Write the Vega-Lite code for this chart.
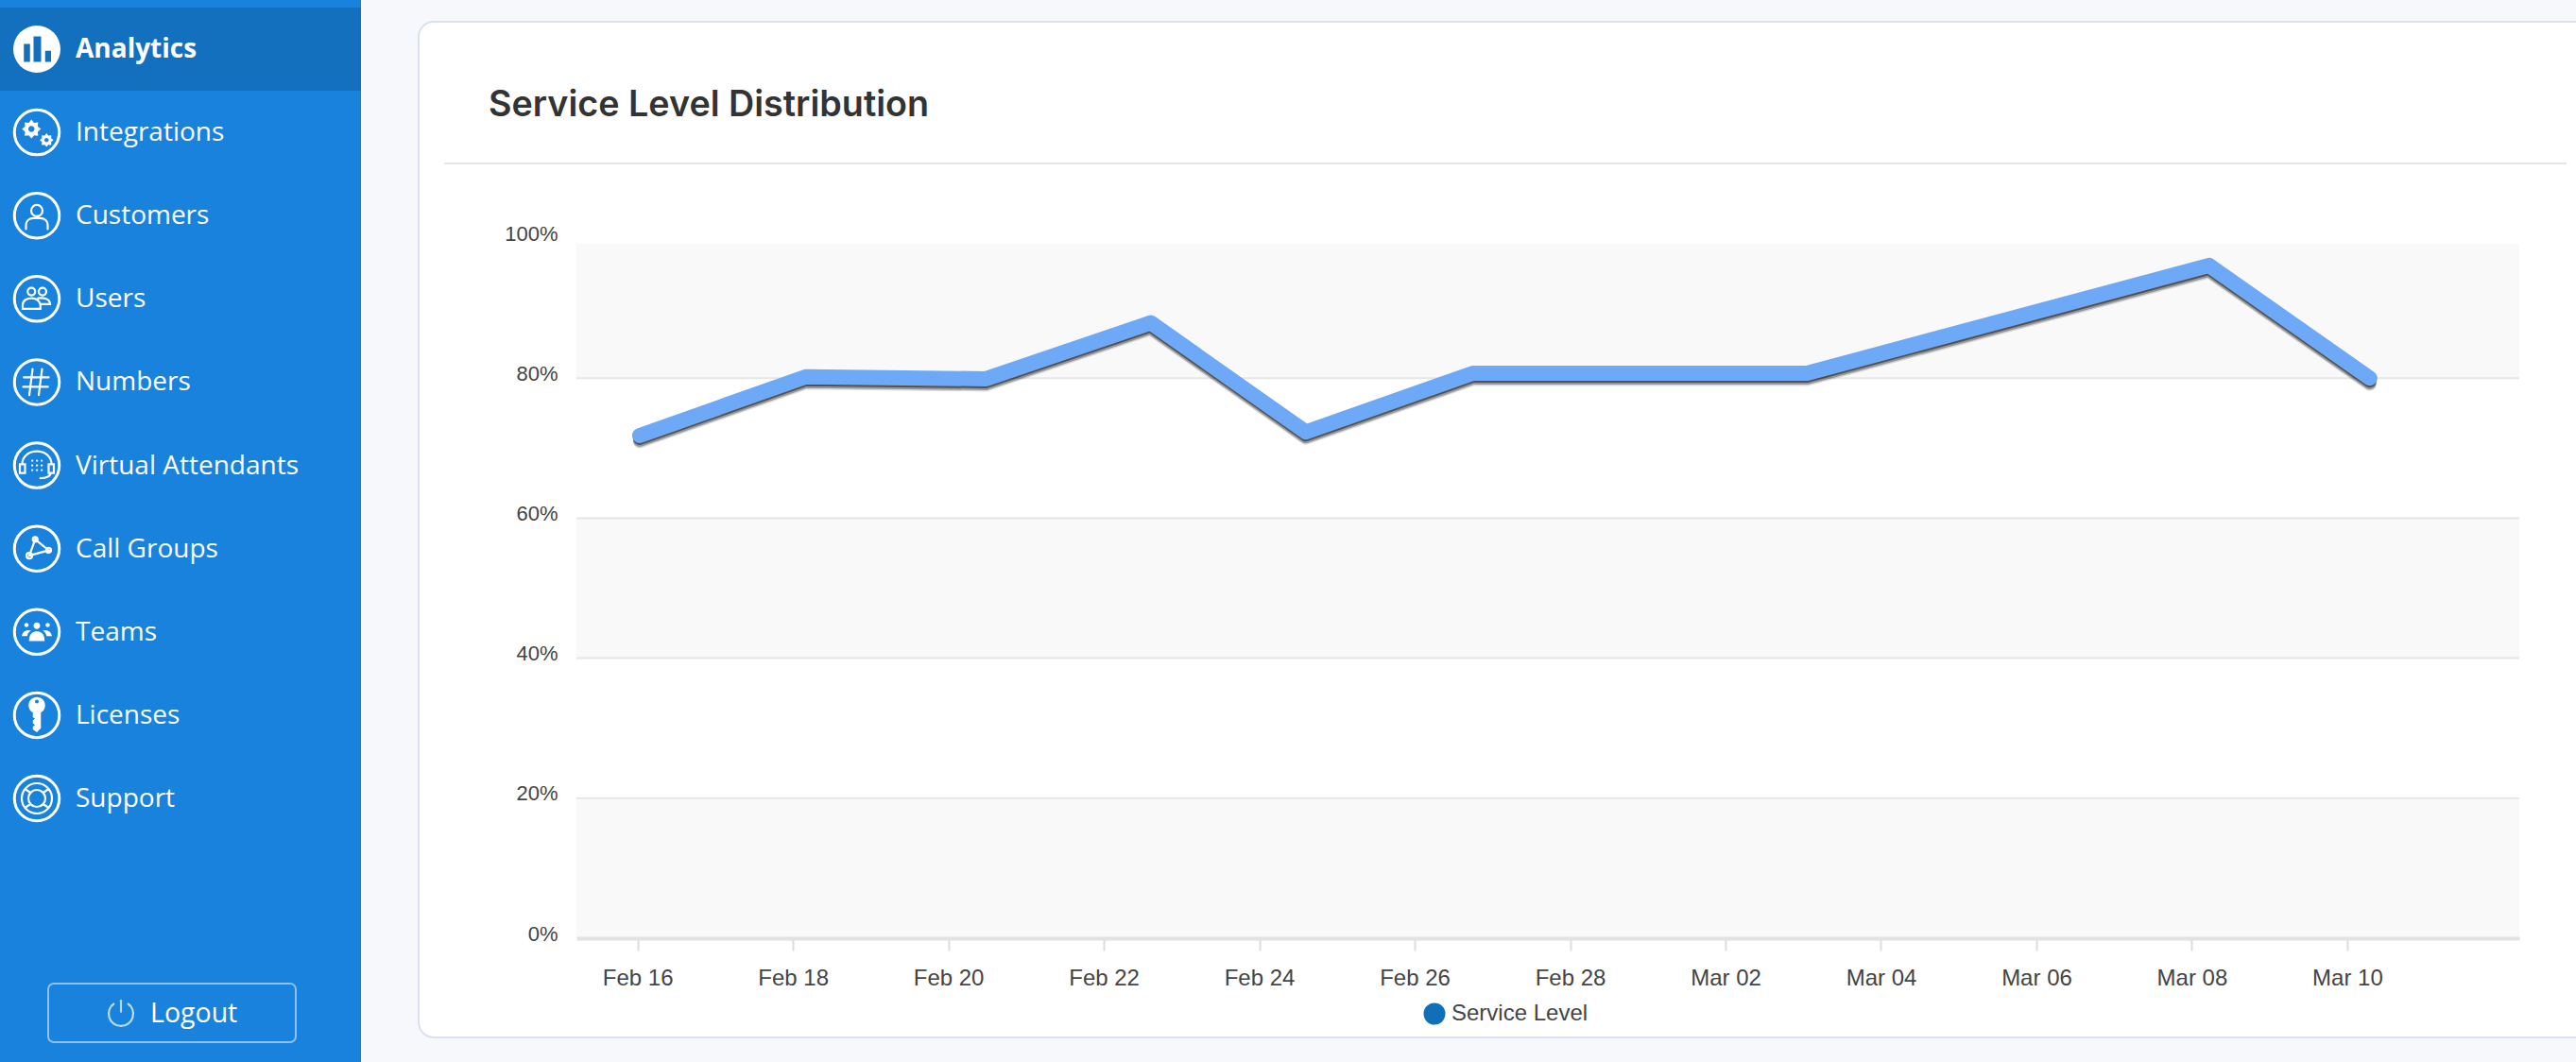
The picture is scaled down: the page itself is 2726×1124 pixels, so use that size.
{
  "$schema": "https://vega.github.io/schema/vega-lite/v6.json",
  "width": 2056,
  "height": 741,
  "autosize": {"type": "none"},
  "padding": {"left": 610, "top": 252, "right": 60, "bottom": 131},
  "background": "#f7f8fb",
  "title": {
    "text": "Service Level Distribution",
    "anchor": "start",
    "frame": "group",
    "dx": -93,
    "offset": -161,
    "baseline": "alphabetic",
    "font": "Inter",
    "fontSize": 37.7,
    "fontWeight": 600,
    "color": "#333333"
  },
  "config": {"view": {"stroke": null}},
  "resolve": {"scale": {"x": "independent", "y": "independent", "stroke": "independent", "shape": "independent"}},
  "layer": [
    {
      "data": {"values": [{"part": "sidebar"}]},
      "mark": {"type": "rect", "fill": "#1882dd"},
      "encoding": {"x": {"value": -610}, "x2": {"value": -228}, "y": {"value": -252}, "y2": {"value": 872}}
    },
    {
      "data": {"values": [{"part": "active row"}]},
      "mark": {"type": "rect", "fill": "#1270bf"},
      "encoding": {"x": {"value": -610}, "x2": {"value": -228}, "y": {"value": -244}, "y2": {"value": -156}}
    },
    {
      "data": {"values": [{"part": "card"}]},
      "mark": {"type": "rect", "fill": "#ffffff", "stroke": "#d9e1f0", "strokeWidth": 2, "cornerRadius": 16},
      "encoding": {"x": {"value": -167}, "x2": {"value": 2200}, "y": {"value": -229}, "y2": {"value": 846}}
    },
    {
      "data": {"values": [{"part": "divider"}]},
      "mark": {"type": "rule", "stroke": "#e6e6e6", "strokeWidth": 2},
      "encoding": {"x": {"value": -140}, "x2": {"value": 2106}, "y": {"value": -79}}
    },
    {
      "data": {"values": [{"part": "logout"}]},
      "mark": {"type": "rect", "fill": "#1882dd", "stroke": "#8cc0ee", "strokeWidth": 2, "cornerRadius": 6},
      "encoding": {"x": {"value": -559}, "x2": {"value": -297}, "y": {"value": 789}, "y2": {"value": 851}}
    },
    {
      "data": {"values": [{"label": "Logout"}]},
      "mark": {"type": "text", "align": "left", "baseline": "middle", "font": "Open Sans", "fontSize": 28.5, "fill": "#ffffff"},
      "encoding": {"x": {"value": -451}, "y": {"value": 821}, "text": {"field": "label"}}
    },
    {
      "data": {"values": [{"label": "power"}]},
      "mark": {"type": "point", "filled": false, "stroke": "#ffffff", "strokeWidth": 2.2, "size": 2500, "shape": "M-.28 -.4 A.52 .52 0 1 0 .28 -.4 M0 -.56 V-.02"},
      "encoding": {"x": {"value": -482}, "y": {"value": 820}}
    },
    {
      "data": {
        "values": [
          {"item": "Analytics"},
          {"item": "Integrations"},
          {"item": "Customers"},
          {"item": "Users"},
          {"item": "Numbers"},
          {"item": "Virtual Attendants"},
          {"item": "Call Groups"},
          {"item": "Teams"},
          {"item": "Licenses"},
          {"item": "Support"}
        ]
      },
      "resolve": {"scale": {"shape": "independent"}},
      "encoding": {
        "x": {"value": -571},
        "y": {
          "field": "item",
          "type": "nominal",
          "axis": null,
          "scale": {
            "type": "point",
            "padding": 0,
            "domain": ["Analytics", "Integrations", "Customers", "Users", "Numbers", "Virtual Attendants", "Call Groups", "Teams", "Licenses", "Support"],
            "range": [-200, 593]
          }
        }
      },
      "layer": [
        {
          "transform": [{"filter": "datum.item !== 'Analytics'"}],
          "mark": {"type": "point", "shape": "circle", "filled": false, "stroke": "#ffffff", "strokeWidth": 3, "size": 2256, "opacity": 1}
        },
        {
          "transform": [{"filter": "datum.item === 'Analytics'"}],
          "mark": {"type": "point", "shape": "circle", "filled": true, "fill": "#ffffff", "size": 2500, "opacity": 1}
        },
        {
          "transform": [{"filter": "datum.item === 'Analytics'"}],
          "mark": {"type": "point", "filled": true, "fill": "#1270bf", "size": 2500, "opacity": 1, "shape": "M-.55 -.22 H-.29 V.54 H-.55 Z M-.14 -.54 H.18 V.54 H-.14 Z M.35 .07 H.6 V.54 H.35 Z"}
        },
        {
          "transform": [{"filter": "indexof(['Customers','Users','Numbers','Virtual Attendants','Call Groups','Support'], datum.item) >= 0"}],
          "mark": {"type": "point", "filled": false, "stroke": "#ffffff", "strokeWidth": 2.2, "strokeCap": "round", "size": 2500, "opacity": 1},
          "encoding": {
            "shape": {
              "field": "item",
              "type": "nominal",
              "legend": null,
              "scale": {
                "domain": ["Customers", "Users", "Numbers", "Virtual Attendants", "Call Groups", "Support"],
                "range": [
                  "M.24 -.21 A.24 .24 0 1 1 -.24 -.21 A.24 .24 0 1 1 .24 -.21 Z M-.46 .57 V.42 C-.46 .2 -.3 .11 -.14 .11 H.14 C.3 .11 .46 .2 .46 .42 V.57",
                  "M-.07 -.31 A.16 .16 0 1 1 -.39 -.31 A.16 .16 0 1 1 -.07 -.31 Z M.4 -.31 A.16 .16 0 1 1 .08 -.31 A.16 .16 0 1 1 .4 -.31 Z M-.6 .42 V.25 C-.6 .05 -.4 -.03 -.22 -.03 C-.05 -.03 .1 .05 .15 .25 V.42 Z M.05 -.03 C.3 -.07 .55 0 .56 .22 H.17",
                  "M-.18 -.55 L-.32 .55 M.22 -.55 L.08 .55 M-.55 -.2 H.5 M-.58 .2 H.47",
                  "M-.62 -.05 C-.62 -.78 .62 -.78 .62 -.05 M-.72 -.05 H-.5 V.32 H-.72 Z M.5 -.05 H.72 V.32 H.5 Z M.6 .32 C.55 .52 .35 .54 .15 .54 M-.2 -.2 h.01 M0 -.2 h.01 M.2 -.2 h.01 M-.2 0 h.01 M0 0 h.01 M.2 0 h.01 M-.2 .2 h.01 M0 .2 h.01 M.2 .2 h.01",
                  "M-.07 -.39 L-.32 .3 L.5 .07 Z M.03 -.39 A.1 .1 0 1 1 -.17 -.39 A.1 .1 0 1 1 .03 -.39 Z M-.2 .3 A.12 .12 0 1 1 -.44 .3 A.12 .12 0 1 1 -.2 .3 Z M.6 .07 A.1 .1 0 1 1 .4 .07 A.1 .1 0 1 1 .6 .07 Z",
                  "M.64 0 A.64 .64 0 1 1 -.64 0 A.64 .64 0 1 1 .64 0 Z M.36 0 A.36 .36 0 1 1 -.36 0 A.36 .36 0 1 1 .36 0 Z M-.27 -.24 L-.5 -.4 M.27 -.24 L.5 -.4 M-.27 .24 L-.5 .4 M.27 .24 L.5 .4"
                ]
              }
            }
          }
        },
        {
          "transform": [{"filter": "indexof(['Integrations','Teams','Licenses'], datum.item) >= 0"}],
          "mark": {"type": "point", "filled": true, "fill": "#ffffff", "size": 2500, "opacity": 1},
          "encoding": {
            "shape": {
              "field": "item",
              "type": "nominal",
              "legend": null,
              "scale": {
                "domain": ["Integrations", "Teams", "Licenses"],
                "range": [
                  "M.17 -.14 L.038 -.029 L.053 .143 L-.119 .128 L-.23 .26 L-.341 .128 L-.513 .143 L-.498 -.029 L-.63 -.14 L-.498 -.251 L-.513 -.423 L-.341 -.408 L-.23 -.54 L-.119 -.408 L.053 -.423 L.038 -.251 Z M-.1 -.14 A.13 .13 0 1 0 -.36 -.14 A.13 .13 0 1 0 -.1 -.14 Z M.7 .33 L.604 .41 L.615 .535 L.49 .524 L.41 .62 L.33 .524 L.205 .535 L.216 .41 L.12 .33 L.216 .25 L.205 .125 L.33 .136 L.41 .04 L.49 .136 L.615 .125 L.604 .25 Z M.5 .33 A.09 .09 0 1 0 .32 .33 A.09 .09 0 1 0 .5 .33 Z",
                  "M-.14 -.26 A.14 .14 0 1 0 .14 -.26 A.14 .14 0 1 0 -.14 -.26 Z M-.33 .39 C-.33 .05 -.15 -.02 0 -.02 C.15 -.02 .33 .05 .33 .39 Z M-.53 -.29 A.09 .09 0 1 0 -.35 -.29 A.09 .09 0 1 0 -.53 -.29 Z M.37 -.29 A.09 .09 0 1 0 .55 -.29 A.09 .09 0 1 0 .37 -.29 Z M-.64 .18 C-.6 -.05 -.4 -.12 -.25 -.05 C-.35 0 -.4 .1 -.41 .18 Z M.64 .18 C.6 -.05 .4 -.12 .25 -.05 C.35 0 .4 .1 .41 .18 Z",
                  "M-.35 -.42 A.35 .35 0 1 1 .35 -.42 A.35 .35 0 1 1 -.35 -.42 Z M.08 -.58 A.08 .08 0 1 0 -.08 -.58 A.08 .08 0 1 0 .08 -.58 Z M-.17 -.2 H.17 V.55 L0 .72 L-.17 .6 V.48 L-.08 .42 L-.17 .33 V.22 L-.08 .15 L-.17 .08 Z"
                ]
              }
            }
          }
        },
        {
          "transform": [{"filter": "datum.item !== 'Analytics'"}],
          "mark": {"type": "text", "align": "left", "baseline": "middle", "font": "Open Sans", "fontSize": 28, "dy": 1, "fill": "#ffffff"},
          "encoding": {"x": {"value": -530}, "text": {"field": "item"}}
        },
        {
          "transform": [{"filter": "datum.item === 'Analytics'"}],
          "mark": {"type": "text", "align": "left", "baseline": "middle", "font": "Open Sans", "fontSize": 28, "dy": 1, "fontWeight": 700, "fill": "#ffffff"},
          "encoding": {"x": {"value": -530}, "text": {"field": "item"}}
        }
      ]
    },
    {
      "layer": [
        {
          "data": {"values": [{"low": 0, "high": 0.2}, {"low": 0.4, "high": 0.6}, {"low": 0.8, "high": 0.992}]},
          "mark": {"type": "rect", "fill": "#f9f9f9"},
          "encoding": {
            "y": {"field": "low", "type": "quantitative", "scale": {"domain": [0, 1]}, "title": null},
            "y2": {"field": "high"}
          }
        },
        {
          "data": {"values": [{"level": 0.2}, {"level": 0.4}, {"level": 0.6}, {"level": 0.8}]},
          "mark": {"type": "rule", "stroke": "#e6e6e6", "strokeWidth": 2},
          "encoding": {"y": {"field": "level", "type": "quantitative", "title": null}}
        },
        {
          "data": {
            "name": "service",
            "values": [
              {"date": "2023-02-16T00:40:00Z", "level": 0.718, "series": "Service Level"},
              {"date": "2023-02-18T04:00:00Z", "level": 0.802, "series": "Service Level"},
              {"date": "2023-02-20T11:39:00Z", "level": 0.799, "series": "Service Level"},
              {"date": "2023-02-22T14:31:00Z", "level": 0.879, "series": "Service Level"},
              {"date": "2023-02-24T14:24:00Z", "level": 0.723, "series": "Service Level"},
              {"date": "2023-02-26T18:00:00Z", "level": 0.807, "series": "Service Level"},
              {"date": "2023-03-03T01:12:00Z", "level": 0.807, "series": "Service Level"},
              {"date": "2023-03-08T05:17:00Z", "level": 0.961, "series": "Service Level"},
              {"date": "2023-03-10T06:58:00Z", "level": 0.8, "series": "Service Level"}
            ]
          },
          "encoding": {
            "x": {
              "field": "date",
              "type": "temporal",
              "title": null,
              "scale": {"type": "utc", "domain": ["2023-02-15T05:08:00Z", "2023-03-12T05:08:00Z"]},
              "axis": {
                "values": [
                  {"year": 2023, "month": "feb", "date": 16, "utc": true},
                  {"year": 2023, "month": "feb", "date": 18, "utc": true},
                  {"year": 2023, "month": "feb", "date": 20, "utc": true},
                  {"year": 2023, "month": "feb", "date": 22, "utc": true},
                  {"year": 2023, "month": "feb", "date": 24, "utc": true},
                  {"year": 2023, "month": "feb", "date": 26, "utc": true},
                  {"year": 2023, "month": "feb", "date": 28, "utc": true},
                  {"year": 2023, "month": "mar", "date": 2, "utc": true},
                  {"year": 2023, "month": "mar", "date": 4, "utc": true},
                  {"year": 2023, "month": "mar", "date": 6, "utc": true},
                  {"year": 2023, "month": "mar", "date": 8, "utc": true},
                  {"year": 2023, "month": "mar", "date": 10, "utc": true}
                ],
                "format": "%b %d",
                "grid": false,
                "zindex": 1,
                "labelAngle": 0,
                "labelFont": "Liberation Sans",
                "labelFontSize": 24,
                "labelColor": "#444444",
                "labelPadding": 17,
                "labelOverlap": false,
                "tickColor": "#dddddd",
                "tickWidth": 2,
                "tickSize": 13,
                "domainColor": "#e2e2e2",
                "domainWidth": 4
              }
            },
            "y": {
              "field": "level",
              "type": "quantitative",
              "title": null,
              "scale": {"domain": [0, 1]},
              "axis": {
                "values": [0, 0.2, 0.4, 0.6, 0.8, 1],
                "format": ".0%",
                "grid": false,
                "domain": false,
                "ticks": false,
                "zindex": 1,
                "labelFont": "Liberation Sans",
                "labelFontSize": 22,
                "labelColor": "#444444",
                "labelPadding": 20,
                "labelOffset": -5
              }
            }
          },
          "layer": [
            {"mark": {"type": "line", "stroke": "#000000", "opacity": 0.45, "strokeWidth": 14, "strokeCap": "round", "strokeJoin": "round", "yOffset": 3}},
            {"mark": {"type": "line", "stroke": "#000000", "opacity": 0.3, "strokeWidth": 14, "strokeCap": "round", "strokeJoin": "round", "yOffset": 5}},
            {"mark": {"type": "line", "stroke": "#000000", "opacity": 0.15, "strokeWidth": 14, "strokeCap": "round", "strokeJoin": "round", "yOffset": 6.5}},
            {
              "mark": {"type": "line", "strokeWidth": 16, "strokeCap": "round", "strokeJoin": "round", "opacity": 1},
              "encoding": {
                "stroke": {
                  "field": "series",
                  "type": "nominal",
                  "scale": {"range": ["#6ea9f7"]},
                  "legend": {
                    "orient": "none",
                    "legendX": 896,
                    "legendY": 809,
                    "title": null,
                    "symbolType": "circle",
                    "symbolSize": 529,
                    "symbolFillColor": "#0f6fb8",
                    "symbolStrokeColor": "#0f6fb8",
                    "symbolStrokeWidth": 0,
                    "labelFont": "Liberation Sans",
                    "labelFontSize": 24,
                    "labelColor": "#444444",
                    "labelOffset": 6
                  }
                }
              }
            }
          ]
        }
      ]
    }
  ]
}
